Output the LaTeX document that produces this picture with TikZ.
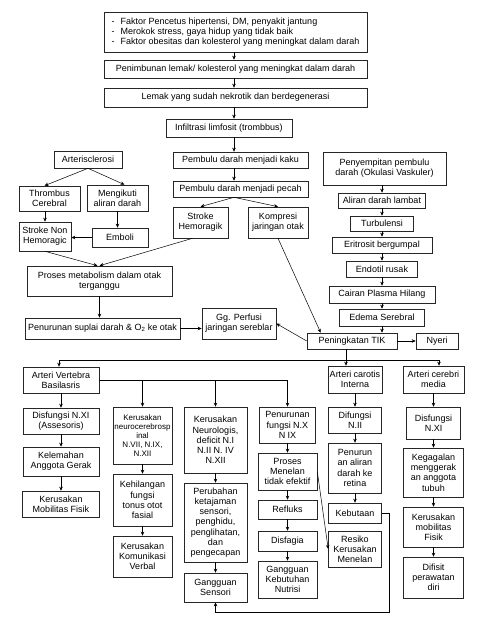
\documentclass[tikz,border=0pt]{standalone}
\usepackage{fontspec}
\setmainfont{Liberation Sans}
\usetikzlibrary{arrows.meta}

\begin{document}
\begin{tikzpicture}[x=1pt, y=-1pt, >={Stealth[length=4pt,width=3.5pt]},
  box/.style={draw=black!85, line width=0.6pt, align=center, inner sep=0.5pt,
    font=\fontsize{9}{10.2}\selectfont},
  sz/.style 2 args={minimum width=#1, minimum height=#2},
  every path/.append style={line width=0.5pt}]
\useasboundingbox (0,0) rectangle (484,640);

% top chain
\node[box, sz={263}{40}, align=left] (faktor) at (235.5,32)
  {-\hspace{6pt}Faktor Pencetus hipertensi, DM, penyakit jantung\\
   -\hspace{6pt}Merokok stress, gaya hidup yang tidak baik\\
   -\hspace{6pt}Faktor obesitas dan kolesterol yang meningkat dalam darah};
\node[box, sz={263}{18}, below of=faktor, node distance=37pt] (timbun)
  {Penimbunan lemak/ kolesterol yang meningkat dalam darah};
\node[box, sz={263}{19}, below of=timbun, node distance=28.5pt] (nekrotik)
  {Lemak yang sudah nekrotik dan berdegenerasi};
\node[box, sz={126}{18}] (infil) at (229,128) {Infiltrasi limfosit (trombbus)};
\node[box, sz={135}{16}] (kaku) at (240.5,160) {Pembulu darah menjadi kaku};
\node[box, sz={135}{16}, below of=kaku, node distance=29pt] (pecah) {Pembulu darah menjadi pecah};
\node[box, sz={55}{31}] (strokeH) at (200.5,222.5) {Stroke\\Hemoragik};
\node[box, sz={60}{31}, right of=strokeH, node distance=77.5pt] (kompresi) {Kompresi\\jaringan otak};

% left block
\node[box, sz={68}{17}] (arterio) at (88,159.5) {Arterisclerosi};
\node[box, sz={61}{25}] (thrombus) at (49.5,198.5) {Thrombus\\Cerebral};
\node[box, sz={61}{26}] (ikut) at (117.5,198) {Mengikuti\\aliran darah};
\node[box, sz={52}{29}] (strokeNH) at (45,236.5) {Stroke Non\\Hemoragic};
\node[box, sz={56}{19}] (emboli) at (120,237.5) {Emboli};
\node[box, sz={145}{30}] (metabol) at (99.5,281) {Proses metabolism dalam otak\\terganggu};
\node[box, sz={155}{21}] (suplai) at (102.5,328.5) {Penurunan suplai darah \& O\textsubscript{2} ke otak};
\node[box, sz={74}{31}] (perfusi) at (239,323.5) {Gg. Perfusi\\jaringan sereblar};

% right column
\node[box, sz={123}{33}] (sempit) at (384.5,168.5) {Penyempitan pembulu\\darah (Okulasi Vaskuler)};
\node[box, sz={87}{15}, below of=sempit, node distance=32pt, xshift=-2.5pt] (lambat) {Aliran darah lambat};
\node[box, sz={63}{15}, below of=lambat, node distance=23pt] (turbul) {Turbulensi};
\node[box, sz={100}{16}, below of=turbul, node distance=21.5pt] (eritro) {Eritrosit bergumpal};
\node[box, sz={71}{16}, below of=eritro, node distance=24pt] (endotil) {Endotil rusak};
\node[box, sz={106}{17}, below of=endotil, node distance=25.5pt] (cairan) {Cairan Plasma Hilang};
\node[box, sz={85}{17}, below of=cairan, node distance=23pt] (edema) {Edema Serebral};
\node[box, sz={90}{16}] (tik) at (352,341) {Peningkatan TIK};
\node[box, sz={42}{16}, right of=tik, node distance=85pt] (nyeri) {Nyeri};

% arteries
\node[box, sz={76}{26}] (vertebra) at (61,380) {Arteri Vertebra\\Basilasris};
\node[box, sz={54}{27}] (carotis) at (355,379.5) {Arteri carotis\\Interna};
\node[box, sz={61}{27}] (cerebri) at (433.5,379.5) {Arteri cerebri\\media};

% lower columns
\node[box, sz={76}{26}, below of=vertebra, node distance=41pt] (disXI) {Disfungsi N.XI\\(Assesoris)};
\node[box, sz={76}{29}, below of=disXI, node distance=40.5pt] (lemah) {Kelemahan\\Anggota Gerak};
\node[box, sz={77}{26}, below of=lemah, node distance=42.5pt] (mobil) {Kerusakan\\Mobilitas Fisik};

\node[box, sz={59}{57}, font=\fontsize{8}{9.2}\selectfont] (neurocer) at (142.5,435.5)
  {Kerusakan\\neurocerebrosp\\inal\\N.VII, N.IX,\\N.XII};
\node[box, sz={59}{52}, below of=neurocer, node distance=64.5pt] (hilang) {Kehilangan\\fungsi\\tonus otot\\fasial};
\node[box, sz={59}{41}, below of=hilang, node distance=56.5pt] (komun) {Kerusakan\\Komunikasi\\Verbal};

\node[box, sz={63}{66}] (neurolog) at (215.5,440) {Kerusakan\\Neurologis,\\deficit N.I\\N.II N. IV\\N.XII};
\node[box, sz={63}{79}, below of=neurolog, node distance=82.5pt] (ubah)
  {Perubahan\\ketajaman\\sensori,\\penghidu,\\penglihatan,\\dan\\pengecapan};
\node[box, sz={63}{29}, below of=ubah, node distance=65pt] (sensori) {Gangguan\\Sensori};

\node[box, sz={56}{36}] (nX) at (287.5,425) {Penurunan\\fungsi N.X\\N IX};
\node[box, sz={59}{37}, below of=nX, node distance=46.5pt] (menelan) {Proses\\Menelan\\tidak efektif};
\node[box, sz={59}{19}, below of=menelan, node distance=38pt] (refluks) {Refluks};
\node[box, sz={59}{20}, below of=refluks, node distance=31.5pt] (disfagia) {Disfagia};
\node[box, sz={59}{37}, below of=disfagia, node distance=38.5pt] (nutrisi) {Gangguan\\Kebutuhan\\Nutrisi};

\node[box, sz={53}{26}, below of=carotis, node distance=40.5pt] (nII) {Difungsi\\N.II};
\node[box, sz={53}{50}, below of=nII, node distance=48pt] (alir) {Penurun\\an aliran\\darah ke\\retina};
\node[box, sz={53}{20}, below of=alir, node distance=45pt] (buta) {Kebutaan};
\node[box, sz={53}{36}, below of=buta, node distance=36pt] (resiko) {Resiko\\Kerusakan\\Menelan};

\node[box, sz={54}{32}, below of=cerebri, node distance=43.5pt] (disXIr) {Disfungsi\\N.XI};
\node[box, sz={60}{49}, below of=disXIr, node distance=49.5pt] (gagal) {Kegagalan\\menggerak\\an anggota\\tubuh};
\node[box, sz={60}{40}, below of=gagal, node distance=54.5pt] (mobilR) {Kerusakan\\mobilitas\\Fisik};
\node[box, sz={60}{41}, below of=mobilR, node distance=50.5pt] (difisit) {Difisit\\perawatan\\diri};

\coordinate (spine) at (234,0);
\coordinate (drop) at (346,360);
\coordinate (busL) at (59,360);
\coordinate (busR) at (439,360);
\coordinate (loop) at (389,612);

\draw[->] (spine |- faktor.south) -- (spine |- timbun.north);
\draw[->] (spine |- timbun.south) -- (spine |- nekrotik.north);
\draw[->] (spine |- nekrotik.south) -- (spine |- infil.north);
\draw[->] (spine |- infil.south) -- (spine |- kaku.north);
\draw[->] (spine |- kaku.south) -- (spine |- pecah.north);
\draw[->] (spine |- pecah.south) -- (strokeH.north);
\draw[->] (spine |- pecah.south) -- (kompresi.north);

\draw[->] (arterio.south) -- ([xshift=-5pt]thrombus.north);
\draw[->] (arterio.south) -- ([xshift=7pt]ikut.north);
\draw[->] (strokeNH |- thrombus.south) -- (strokeNH.north);
\draw[->] (ikut.south) -- (ikut.south |- emboli.north);
\draw[->] (emboli.west) -- (emboli.west -| strokeNH.east);
\draw[->] (strokeNH.south) -- ([xshift=-2pt]metabol.north);
\draw[->] ([xshift=-8pt]strokeH.south) -- (metabol.north);
\draw[->] (metabol.south) -- (metabol.south |- suplai.north);
\draw[->] (suplai.east) -- (suplai.east -| perfusi.west);

\draw[->] (lambat |- sempit.south) -- (lambat.north);
\foreach \a/\b in {lambat/turbul, turbul/eritro, eritro/endotil, endotil/cairan, cairan/edema}
  \draw[->] (\a) -- (\b);
\draw[->] (edema) -- (edema |- tik.north);
\draw[->] (kompresi.south) -- ([xshift=14pt]tik.north west);
\draw[->] (tik.west) -- (perfusi.east);
\draw[->] (tik) -- (nyeri);

\draw (drop |- tik.south) -- (drop);
\draw[->] (drop) -- (drop |- carotis.north);
\draw[->] (drop) -| (busL |- vertebra.north);
\draw[->] (drop) -| (busR |- cerebri.north);
\draw[->] (vertebra.east) -| (nX.north);
\draw[->] (neurocer |- vertebra.east) -- (neurocer.north);
\draw[->] (neurolog |- vertebra.east) -- (neurolog.north);

\foreach \a/\b in {vertebra/disXI, disXI/lemah, lemah/mobil, neurocer/hilang, hilang/komun,
    neurolog/ubah, ubah/sensori, nX/menelan, menelan/refluks, refluks/disfagia,
    disfagia/nutrisi, carotis/nII, nII/alir, alir/buta, cerebri/disXIr, disXIr/gagal,
    gagal/mobilR, mobilR/difisit}
  \draw[->] (\a) -- (\b);
\draw[->] (menelan.east) -- (resiko.west);
\draw[->] (buta.east) -| (loop) -| (sensori.south);
\end{tikzpicture}
\end{document}
